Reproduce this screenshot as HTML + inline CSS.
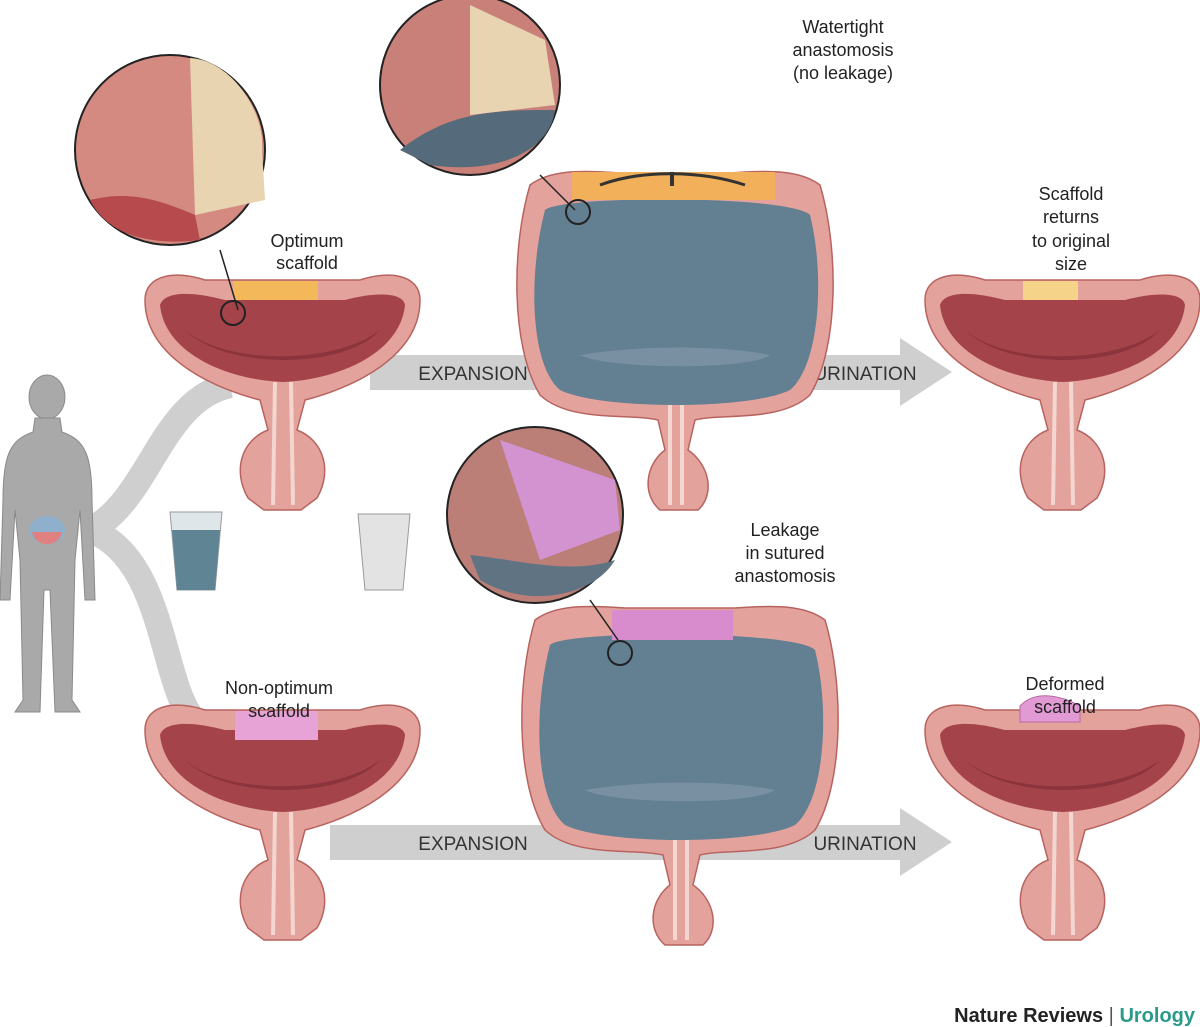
<!DOCTYPE html>
<html><head><meta charset="utf-8"><style>
html,body{margin:0;padding:0;background:#fff;}
svg{display:block;font-family:"Liberation Sans",sans-serif;}
.t{font-size:18px;fill:#222;text-anchor:middle;}
.a{font-size:19px;fill:#333;}
</style></head><body>
<svg width="1200" height="1027" viewBox="0 0 1200 1027" xmlns="http://www.w3.org/2000/svg">
<defs>
<g id="sb">
<path d="M0,30 C0,5 30,0 60,10 L215,10 C245,0 275,5 275,30 C275,90 200,120 160,130 L152,160 C178,170 188,200 172,228 L156,240 L119,240 L103,228 C87,200 97,170 123,160 L115,130 C75,120 0,90 0,30 Z" fill="#e3a39c" stroke="#b8635f" stroke-width="1.5"/>
<path d="M15,35 C20,20 50,22 80,30 L200,30 C230,22 258,22 260,35 C255,85 190,110 138,112 C85,110 20,85 15,35 Z" fill="#a5434a"/>
<path d="M40,60 C80,95 190,95 235,60 C200,100 80,100 40,60Z" fill="#8c343b"/>
<path d="M130,112 L128,235 M146,112 L148,235" stroke="#f3d6d0" stroke-width="4"/>
</g>
<g id="bb">
<path d="M10,20 C30,5 60,5 100,8 L210,8 C250,5 280,5 300,20 C318,80 320,180 290,230 C260,258 200,248 175,255 L168,285 C190,300 195,330 178,345 L140,345 C122,330 125,300 145,285 L138,255 C110,248 50,258 20,230 C-10,180 -8,80 10,20Z" fill="#e3a39c" stroke="#b8635f" stroke-width="1.5"/>
<path d="M25,45 C40,30 270,30 290,50 C305,110 300,200 270,225 C230,245 80,245 40,225 C10,200 8,110 25,45Z" fill="#637f92"/>
<path d="M60,190 C120,180 200,180 250,190 C230,205 90,205 60,190Z" fill="#7890a2"/>
<path d="M150,240 L150,340 M162,240 L162,340" stroke="#f3d6d0" stroke-width="4"/>
</g>
</defs>
<!-- gray bands -->
<path d="M90,530 C150,500 160,400 230,385" stroke="#cfcfcf" stroke-width="26" fill="none"/>
<path d="M90,530 C170,560 160,700 200,725" stroke="#cfcfcf" stroke-width="26" fill="none"/>
<path d="M370,355 L900,355 L900,338 L952,372 L900,406 L900,390 L370,390Z" fill="#cfcfcf"/>
<path d="M330,825 L900,825 L900,808 L952,842 L900,876 L900,860 L330,860Z" fill="#cfcfcf"/>
<text x="473" y="380" class="a" text-anchor="middle">EXPANSION</text>
<text x="865" y="380" class="a" text-anchor="middle">URINATION</text>
<text x="473" y="850" class="a" text-anchor="middle">EXPANSION</text>
<text x="865" y="850" class="a" text-anchor="middle">URINATION</text>
<!-- woman -->
<g fill="#a9a9a9" stroke="#8a8a8a">
<ellipse cx="47" cy="397" rx="18" ry="22"/>
<path d="M35,418 L60,418 L62,432 C85,440 92,455 92,500 L95,600 L85,600 L80,510 L75,560 L72,700 L80,712 L55,712 L50,590 L44,590 L40,712 L15,712 L23,700 L20,560 L15,510 L10,600 L0,600 L3,500 C3,455 10,440 33,432Z"/>
</g>
<ellipse cx="47" cy="530" rx="18" ry="14" fill="#8fb0cc"/>
<path d="M32,532 C35,548 59,548 62,532Z" fill="#e08080"/>
<!-- glasses -->
<path d="M170,512 L222,512 L215,590 L177,590Z" fill="#dfe6ea" stroke="#999"/>
<path d="M172,530 L220,530 L215,590 L177,590Z" fill="#5f8595"/>
<path d="M358,514 L410,514 L403,590 L365,590Z" fill="#e3e3e3" stroke="#999"/>
<!-- small bladders -->
<use href="#sb" transform="translate(145,270)"/>
<path d="M233,281 L318,281 L318,300 L233,300Z" fill="#f2b85a"/>
<use href="#sb" transform="translate(925,270)"/>
<path d="M1023,281 L1078,281 L1078,300 L1023,300Z" fill="#f5d48a"/>
<use href="#sb" transform="translate(145,700)"/>
<path d="M235,711 L318,711 L318,740 L235,740Z" fill="#e7a3d6"/>
<use href="#sb" transform="translate(925,700)"/>
<path d="M1020,706 C1035,690 1060,695 1080,706 L1080,722 L1020,722Z" fill="#e29ad4" stroke="#b86aa5"/>
<!-- big bladders -->
<use href="#bb" transform="translate(520,165)"/>
<path d="M572,172 L775,172 L775,200 L572,200Z" fill="#f2b05a"/>
<path d="M600,185 C640,170 700,170 745,185" stroke="#333" stroke-width="3" fill="none"/>
<path d="M672,172 L672,186" stroke="#333" stroke-width="4"/>
<use href="#bb" transform="translate(525,600)"/>
<path d="M612,610 L733,610 L733,640 L612,640Z" fill="#d98ccd"/>
<!-- circles -->
<circle cx="170" cy="150" r="95" fill="#d48a80" stroke="#222" stroke-width="2"/>
<path d="M190,58 C230,60 265,110 262,150 L265,200 L195,215Z" fill="#e8d4b0"/>
<path d="M90,200 C130,190 160,200 195,215 L200,240 C160,245 110,240 90,200Z" fill="#b74a4c"/>
<circle cx="470" cy="85" r="90" fill="#c98078" stroke="#222" stroke-width="2"/>
<path d="M400,150 C450,110 500,110 555,110 C550,150 500,175 430,165Z" fill="#556a7a"/>
<path d="M470,5 L545,40 L555,105 L470,115Z" fill="#e8d4b0"/>
<circle cx="535" cy="515" r="88" fill="#bb7f78" stroke="#222" stroke-width="2"/>
<path d="M500,440 L615,480 L620,530 L540,560Z" fill="#d392d0"/>
<path d="M470,555 C520,560 570,575 615,560 C595,595 530,610 480,580Z" fill="#607383"/>
<path d="M220,250 L238,310" stroke="#222" stroke-width="1.5"/>
<circle cx="233" cy="313" r="12" fill="none" stroke="#222" stroke-width="2"/>
<path d="M540,175 L575,210" stroke="#222" stroke-width="1.5"/>
<circle cx="578" cy="212" r="12" fill="none" stroke="#222" stroke-width="2"/>
<path d="M590,600 L618,640" stroke="#222" stroke-width="1.5"/>
<circle cx="620" cy="653" r="12" fill="none" stroke="#222" stroke-width="2"/>
<!-- labels -->
<text class="t" x="307" y="247">Optimum</text><text class="t" x="307" y="269">scaffold</text>
<text class="t" x="843" y="33">Watertight</text><text class="t" x="843" y="56">anastomosis</text><text class="t" x="843" y="79">(no leakage)</text>
<text class="t" x="1071" y="200">Scaffold</text><text class="t" x="1071" y="223">returns</text><text class="t" x="1071" y="247">to original</text><text class="t" x="1071" y="270">size</text>
<text class="t" x="785" y="536">Leakage</text><text class="t" x="785" y="559">in sutured</text><text class="t" x="785" y="582">anastomosis</text>
<text class="t" x="279" y="694">Non-optimum</text><text class="t" x="279" y="717">scaffold</text>
<text class="t" x="1065" y="690">Deformed</text><text class="t" x="1065" y="713">scaffold</text>
<text x="1195" y="1022" font-size="20" font-weight="bold" fill="#222" text-anchor="end">Nature Reviews <tspan font-weight="normal" fill="#555">|</tspan> <tspan fill="#2a9a8a">Urology</tspan></text>
</svg>
</body></html>
